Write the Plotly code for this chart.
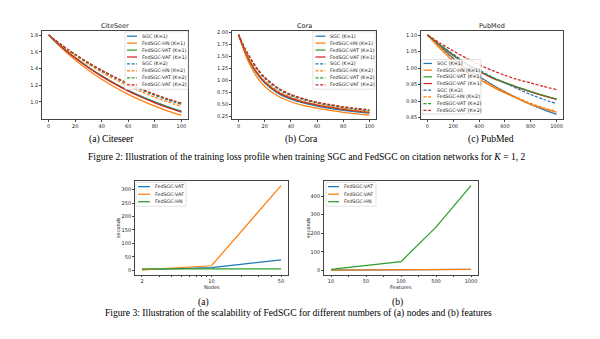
import plotly.graph_objects as go

W, H = 600, 339

# ---------------- data ----------------
series_names = ["SGC (K=1)", "FedSGC-HN (K=1)", "FedSGC-VAT (K=1)", "FedSGC-VAF (K=1)",
                "SGC (K=2)", "FedSGC-HN (K=2)", "FedSGC-VAT (K=2)", "FedSGC-VAF (K=2)"]

epochs = [0, 5, 10, 15, 20, 30, 40, 50, 60, 70, 80, 90, 100]
pub_epochs = [0, 100, 200, 300, 400, 500, 600, 700, 800, 900, 1000]

# CiteSeer training loss
cs_sgc_k1 = [1.80, 1.727, 1.658, 1.592, 1.530, 1.415, 1.312, 1.220, 1.138, 1.065, 0.999, 0.941, 0.890]
cs_hn_k1 = [1.80, 1.718, 1.642, 1.570, 1.502, 1.379, 1.270, 1.174, 1.089, 1.014, 0.948, 0.889, 0.838]
cs_vat_k1 = [1.80, 1.726, 1.657, 1.590, 1.528, 1.412, 1.309, 1.216, 1.133, 1.059, 0.993, 0.934, 0.881]
cs_vaf_k1 = [1.80, 1.725, 1.655, 1.588, 1.525, 1.409, 1.305, 1.212, 1.129, 1.055, 0.988, 0.929, 0.876]
cs_sgc_k2 = [1.80, 1.737, 1.677, 1.619, 1.565, 1.463, 1.371, 1.287, 1.211, 1.142, 1.079, 1.022, 0.971]
cs_hn_k2 = [1.80, 1.734, 1.671, 1.611, 1.555, 1.450, 1.355, 1.268, 1.190, 1.119, 1.055, 0.997, 0.946]
cs_vat_k2 = [1.80, 1.738, 1.678, 1.621, 1.567, 1.466, 1.375, 1.291, 1.216, 1.147, 1.085, 1.028, 0.977]
cs_vaf_k2 = [1.80, 1.739, 1.680, 1.623, 1.570, 1.470, 1.379, 1.296, 1.221, 1.153, 1.091, 1.035, 0.984]

# Cora training loss
co_sgc_k1 = [1.95, 1.59, 1.31, 1.10, 0.94, 0.73, 0.605, 0.52, 0.46, 0.41, 0.37, 0.338, 0.31]
co_hn_k1 = [1.95, 1.55, 1.25, 1.03, 0.87, 0.67, 0.55, 0.47, 0.415, 0.37, 0.33, 0.298, 0.27]
co_vat_k1 = [1.95, 1.60, 1.33, 1.12, 0.962, 0.752, 0.627, 0.542, 0.482, 0.432, 0.392, 0.357, 0.328]
co_vaf_k1 = [1.95, 1.60, 1.33, 1.12, 0.96, 0.75, 0.625, 0.54, 0.48, 0.43, 0.39, 0.355, 0.325]
co_sgc_k2 = [1.95, 1.65, 1.40, 1.20, 1.04, 0.82, 0.68, 0.59, 0.52, 0.47, 0.425, 0.39, 0.36]
co_hn_k2 = [1.95, 1.62, 1.36, 1.15, 0.99, 0.78, 0.65, 0.56, 0.50, 0.45, 0.41, 0.37, 0.34]
co_vat_k2 = [1.95, 1.655, 1.415, 1.215, 1.055, 0.835, 0.695, 0.605, 0.535, 0.485, 0.44, 0.405, 0.375]
co_vaf_k2 = [1.95, 1.66, 1.42, 1.22, 1.06, 0.84, 0.70, 0.61, 0.54, 0.49, 0.445, 0.41, 0.38]

# PubMed training loss
pm_sgc_k1 = [1.10, 1.065, 1.030, 1.000, 0.975, 0.950, 0.928, 0.908, 0.890, 0.874, 0.860]
pm_hn_k1 = [1.10, 1.058, 1.020, 0.990, 0.966, 0.944, 0.925, 0.907, 0.890, 0.877, 0.866]
pm_vat_k1 = [1.10, 1.068, 1.039, 1.013, 0.991, 0.971, 0.956, 0.942, 0.929, 0.917, 0.906]
pm_vaf_k1 = [1.10, 1.068, 1.038, 1.012, 0.990, 0.970, 0.955, 0.941, 0.928, 0.916, 0.905]
pm_sgc_k2 = [1.10, 1.070, 1.042, 1.016, 0.994, 0.973, 0.955, 0.937, 0.920, 0.905, 0.892]
pm_hn_k2 = [1.10, 1.062, 1.025, 0.995, 0.970, 0.948, 0.928, 0.910, 0.893, 0.880, 0.869]
pm_vat_k2 = [1.10, 1.069, 1.040, 1.014, 0.992, 0.972, 0.956, 0.942, 0.929, 0.917, 0.906]
pm_vaf_k2 = [1.10, 1.075, 1.052, 1.030, 1.010, 0.993, 0.978, 0.965, 0.955, 0.944, 0.935]

# Scalability
nodes = [2, 10, 50]
nodes_vat = [3, 10, 39]
nodes_vaf = [2, 17, 315]
nodes_hn = [5, 5, 5]

features = ["10", "50", "100", "500", "1000"]
feat_vat = [1, 2, 3, 4, 5]
feat_vaf = [1, 2, 3, 4, 5]
feat_hn = [5, 25, 47, 233, 457]
scal_names = ["FedSGC-VAT", "FedSGC-VAF", "FedSGC-HN"]

# ---------------- styling ----------------
BLUE, ORANGE, GREEN, RED = "#1f77b4", "#ff7f0e", "#2ca02c", "#d62728"
series_colors = [BLUE, ORANGE, GREEN, RED, BLUE, ORANGE, GREEN, RED]
series_dash = ["solid"] * 4 + ["3px,1.6px"] * 4
LW = 1.25
TICKFONT = dict(family="DejaVu Sans", size=5, color="#222")
SERIF = "Liberation Serif"
CAP = 9.6


def px_x(px):
    return px / W


def px_y(py):
    return 1 - py / H


fig = go.Figure()


def add_series(xs, ys_list, xa, ya):
    for ys, name, c, d in zip(ys_list, series_names, series_colors, series_dash):
        fig.add_trace(go.Scatter(x=xs, y=ys, mode="lines", name=name, showlegend=False,
                                 line=dict(color=c, width=LW, dash=d, shape="spline", smoothing=0.6),
                                 xaxis=xa, yaxis=ya))


add_series(epochs, [cs_sgc_k1, cs_hn_k1, cs_vat_k1, cs_vaf_k1, cs_sgc_k2, cs_hn_k2, cs_vat_k2, cs_vaf_k2], "x", "y")
add_series(epochs, [co_sgc_k1, co_hn_k1, co_vat_k1, co_vaf_k1, co_sgc_k2, co_hn_k2, co_vat_k2, co_vaf_k2], "x2", "y2")
add_series(pub_epochs, [pm_sgc_k1, pm_hn_k1, pm_vat_k1, pm_vaf_k1, pm_sgc_k2, pm_hn_k2, pm_vat_k2, pm_vaf_k2], "x3", "y3")

scal_colors = [BLUE, ORANGE, GREEN]
for ys, name, c in zip([nodes_vat, nodes_vaf, nodes_hn], scal_names, scal_colors):
    fig.add_trace(go.Scatter(x=nodes, y=ys, mode="lines", name=name, showlegend=False,
                             line=dict(color=c, width=LW), xaxis="x4", yaxis="y4"))
feat_idx = list(range(len(features)))
for ys, name, c in zip([feat_vat, feat_vaf, feat_hn], scal_names, scal_colors):
    fig.add_trace(go.Scatter(x=feat_idx, y=ys, mode="lines", name=name, showlegend=False,
                             line=dict(color=c, width=LW), xaxis="x5", yaxis="y5"))

axis_common = dict(showline=True, mirror=True, linecolor="#444", linewidth=0.8,
                   ticks="outside", ticklen=2, tickwidth=0.6, tickcolor="#444",
                   tickfont=TICKFONT, showgrid=False, zeroline=False, fixedrange=True)

top_y = [px_y(118), px_y(29)]
bot_y = [px_y(275), px_y(181)]

fig.update_layout(
    width=W, height=H, margin=dict(l=0, r=0, t=0, b=0),
    paper_bgcolor="white", plot_bgcolor="white", showlegend=False,
    xaxis=dict(domain=[px_x(42), px_x(188)], anchor="y", range=[-5, 105],
               tickvals=[0, 20, 40, 60, 80, 100], **axis_common),
    yaxis=dict(domain=top_y, anchor="x", range=[0.795, 1.852],
               tickvals=[1.0, 1.2, 1.4, 1.6, 1.8], tickformat=".1f", **axis_common),
    xaxis2=dict(domain=[px_x(232), px_x(376)], anchor="y2", range=[-5, 105],
                tickvals=[0, 20, 40, 60, 80, 100], **axis_common),
    yaxis2=dict(domain=top_y, anchor="x2", range=[0.19, 2.035],
                tickvals=[0.25, 0.5, 0.75, 1.0, 1.25, 1.5, 1.75, 2.0], tickformat=".2f", **axis_common),
    xaxis3=dict(domain=[px_x(421), px_x(563)], anchor="y3", range=[-50, 1050],
                tickvals=[0, 200, 400, 600, 800, 1000], **axis_common),
    yaxis3=dict(domain=top_y, anchor="x3", range=[0.846, 1.113],
                tickvals=[0.85, 0.90, 0.95, 1.00, 1.05, 1.10], tickformat=".2f", **axis_common),
    xaxis4=dict(domain=[px_x(135), px_x(288)], anchor="y4", type="log",
                range=[0.231, 1.769], tickvals=nodes, ticktext=[str(n) for n in nodes],
                minor=dict(ticks="outside", ticklen=1.3, tickwidth=0.5, tickcolor="#444",
                           tickvals=[3, 4, 5, 6, 7, 8, 9, 20, 30, 40]),
                **axis_common),
    yaxis4=dict(domain=bot_y, anchor="x4", range=[-15.75, 330.75],
                tickvals=[0, 50, 100, 150, 200, 250, 300], **axis_common),
    xaxis5=dict(domain=[px_x(324), px_x(478)], anchor="y5", range=[-0.2, 4.2],
                tickvals=feat_idx, ticktext=features,
                minor=dict(ticks="outside", ticklen=1.3, tickwidth=0.5, tickcolor="#444", dtick=0.5),
                **axis_common),
    yaxis5=dict(domain=bot_y, anchor="x5", range=[-23, 480],
                tickvals=[0, 100, 200, 300, 400], **axis_common),
)

annotations = []
shapes = []


def text(x, y, s, size, family="DejaVu Sans", xanchor="center", angle=0, color="#222"):
    annotations.append(dict(x=px_x(x), y=px_y(y), xref="paper", yref="paper", text=s,
                            showarrow=False, xanchor=xanchor, yanchor="middle", textangle=angle,
                            font=dict(family=family, size=size, color=color)))


# titles
text(115, 24, "CiteSeer", 6.5)
text(304, 24, "Cora", 6.5)
text(492, 24, "PubMed", 6.5)

# axis titles
text(211.5, 288, "Nodes", 5)
text(401, 288, "Features", 5)
text(118, 228, "seconds", 5, angle=-90)
text(308, 228, "seconds", 5, angle=-90)

# captions
text(111, 138.5, "(a) Citeseer", CAP, family=SERIF, color="#000")
text(301, 138.5, "(b) Cora", CAP, family=SERIF, color="#000")
text(491, 138.5, "(c) PubMed", CAP, family=SERIF, color="#000")
text(307, 155.5, "Figure 2: Illustration of the training loss profile when training SGC and FedSGC on citation networks for <i>K</i> = 1, 2",
     CAP, family=SERIF, color="#000")
text(203, 302.5, "(a)", CAP, family=SERIF, color="#000")
text(397, 302.5, "(b)", CAP, family=SERIF, color="#000")
text(298, 314, "Figure 3: Illustration of the scalability of FedSGC for different numbers of (a) nodes and (b) features",
     CAP, family=SERIF, color="#000")


def legend(box, y0, dy, sx0, sx1, tx, names, colors, dashes):
    bx0, by0, bx1, by1 = box
    shapes.append(dict(type="rect", xref="paper", yref="paper",
                       x0=px_x(bx0), x1=px_x(bx1), y0=px_y(by1), y1=px_y(by0),
                       line=dict(color="#d0d0d0", width=0.6), fillcolor="rgba(255,255,255,0.85)"))
    for i, (n, c, d) in enumerate(zip(names, colors, dashes)):
        y = y0 + i * dy
        shapes.append(dict(type="line", xref="paper", yref="paper",
                           x0=px_x(sx0), x1=px_x(sx1), y0=px_y(y), y1=px_y(y),
                           line=dict(color=c, width=LW, dash=d)))
        text(tx, y, n, 4.8, xanchor="left")


legend((125, 30, 188, 88), 34.5, 7.0, 127, 137, 139.5, series_names, series_colors, series_dash)
legend((313, 30, 375, 88), 34.5, 7.0, 315.5, 325.5, 328, series_names, series_colors, series_dash)
legend((422, 58, 481, 113), 62.0, 6.75, 423.5, 432, 434.5, series_names, series_colors, series_dash)
legend((136, 182, 186, 206), 186.3, 7.6, 138, 150, 152.5, scal_names, scal_colors, ["solid"] * 3)
legend((326, 182, 376, 206), 186.3, 7.6, 328, 339, 341.5, scal_names, scal_colors, ["solid"] * 3)

fig.update_layout(annotations=annotations, shapes=shapes)
fig.write_html("out.html")
